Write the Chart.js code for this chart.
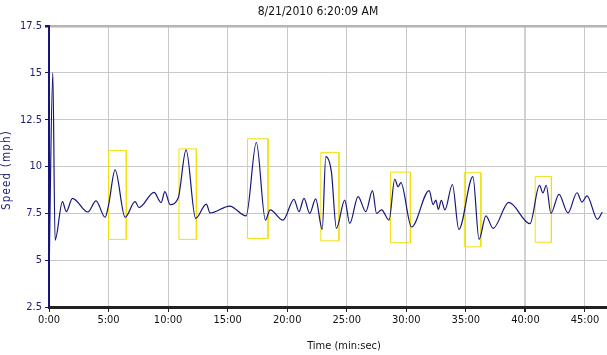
<!DOCTYPE html>
<html><head><meta charset="utf-8">
<script src="https://cdn.jsdelivr.net/npm/chart.js@4/dist/chart.umd.min.js"></script>
<style>html,body{margin:0;padding:0;background:#fff}#wrap{width:607px;height:355px;position:relative}</style>
</head><body><div id="wrap"><canvas id="c" width="607" height="355"></canvas></div>
<script>
const chartTitle = '8/21/2010 6:20:09 AM';
const xAxisTitle = 'Time (min:sec)';
const yAxisTitle = 'Speed (mph)';

const timeMinutes = [0.00,0.32,0.51,1.13,1.45,1.97,3.26,3.95,4.71,5.00,5.55,6.39,7.23,7.56,8.82,9.41,9.73,10.17,10.84,11.51,12.31,13.21,13.53,15.17,16.55,17.41,18.17,18.57,19.65,20.57,20.99,21.41,21.89,22.39,22.94,23.24,23.71,24.13,24.83,25.25,25.95,26.60,27.16,27.50,27.92,28.55,29.03,29.31,29.54,30.44,31.92,32.25,32.48,32.69,32.94,33.24,33.87,34.41,35.59,36.11,36.68,37.29,38.61,40.38,41.18,41.47,41.75,42.14,42.82,43.57,44.33,44.75,45.17,46.05,46.45];
const speedMph = [4.0,15.0,6.07,8.12,7.59,8.30,7.57,8.16,7.29,7.94,9.82,7.29,8.12,7.81,8.62,8.08,8.66,7.97,8.30,10.89,7.23,7.99,7.52,7.89,7.36,11.28,7.14,7.68,7.14,8.25,7.59,8.30,7.50,8.27,6.64,10.53,9.71,6.70,8.21,6.96,8.39,7.59,8.71,7.50,7.68,7.14,9.32,8.92,9.14,6.77,8.71,7.97,8.21,7.71,8.19,7.68,9.04,6.64,9.46,6.11,7.36,6.70,8.08,6.95,8.99,8.59,9.00,7.50,8.51,7.52,8.60,8.10,8.43,7.18,7.57];

const xTickMinutes = [0,5,10,15,20,25,30,35,40,45];
const yTickValues = [2.5,5,7.5,10,12.5,15,17.5];
const xMin = 0, xMax = 46.85, yMin = 2.5, yMax = 17.5;

const boxStart = [5.00,10.91,16.66,22.82,28.67,34.87,40.82];
const boxEnd   = [6.49,12.37,18.39,24.35,30.34,36.26,42.18];
const boxLow   = [6.11,6.11,6.16,6.03,5.93,5.71,5.96];
const boxHigh  = [10.85,10.94,11.48,10.74,9.70,9.67,9.46];

const FONT = '"DejaVu Sans Condensed","DejaVu Sans",sans-serif';
Chart.defaults.font.family = FONT;
Chart.defaults.font.size = 11;

const lineData = timeMinutes.map((t,i)=>({x:t,y:speedMph[i]}));
const boxData = [];
boxStart.forEach((s,i)=>{
  boxData.push({x:s,y:boxLow[i]},{x:s,y:boxHigh[i]},{x:boxEnd[i],y:boxHigh[i]},{x:boxEnd[i],y:boxLow[i]},{x:s,y:boxLow[i]},{x:boxEnd[i],y:null});
});

const textPlugin = {
  id:'texts',
  afterDraw(chart){
    const ctx = chart.ctx;
    ctx.save();
    ctx.fillStyle = '#111';
    ctx.font = '12px ' + FONT;
    ctx.textAlign = 'center'; ctx.textBaseline = 'middle';
    ctx.fillText(chartTitle, 318, 12);
    ctx.font = '11px ' + FONT;
    ctx.fillText(xAxisTitle, 344, 346);
    ctx.translate(7, 170); ctx.rotate(-Math.PI/2);
    ctx.fillStyle = '#1e1e70';
    ctx.font = '11.5px ' + FONT;
    if ('letterSpacing' in ctx) ctx.letterSpacing = '1.2px';
    ctx.fillText(yAxisTitle, 0, 0);
    ctx.restore();
  }
};

new Chart(document.getElementById('c'), {
  type:'line',
  data:{datasets:[
    {data:lineData, borderColor:'#16167a', borderWidth:1.2, pointRadius:0, cubicInterpolationMode:'monotone', fill:false},
    {data:boxData, borderColor:'#f0e010', borderWidth:1, pointRadius:0, tension:0, spanGaps:false, fill:false}
  ]},
  options:{
    responsive:false, animation:false, devicePixelRatio:1,
    layout:{padding:{top:26,left:0,right:0,bottom:0}},
    plugins:{legend:{display:false}, title:{display:false}, tooltip:{enabled:false}},
    scales:{
      x:{type:'linear', min:xMin, max:xMax,
        afterBuildTicks:s=>{s.ticks = xTickMinutes.map(v=>({value:v}));},
        afterFit:s=>{s.height = 48;},
        ticks:{color:'#111', padding:2, maxRotation:0, autoSkip:false, callback:v=>Math.floor(v)+':00', font:{size:11}},
        grid:{color:c=>c.tick && c.tick.value===40 ? '#d0d0d0' : '#c8c8c8', lineWidth:c=>c.tick && c.tick.value===40 ? 2 : 1, tickLength:5, tickColor:'#222', drawOnChartArea:true},
        border:{color:'#222', width:3}
      },
      y:{type:'linear', min:yMin, max:yMax,
        afterBuildTicks:s=>{s.ticks = yTickValues.map(v=>({value:v}));},
        afterFit:s=>{s.width = 49;},
        ticks:{color:'#1e1e70', padding:3, callback:v=>String(v), font:{size:11}},
        grid:{color:c=>c.tick && c.tick.value===17.5 ? '#b4b4b4' : '#c8c8c8', lineWidth:c=>c.tick && c.tick.value===17.5 ? 2.5 : 1, tickLength:4, tickColor:'#16167a'},
        border:{color:'#16167a', width:2}
      }
    }
  },
  plugins:[textPlugin]
});
</script></body></html>
